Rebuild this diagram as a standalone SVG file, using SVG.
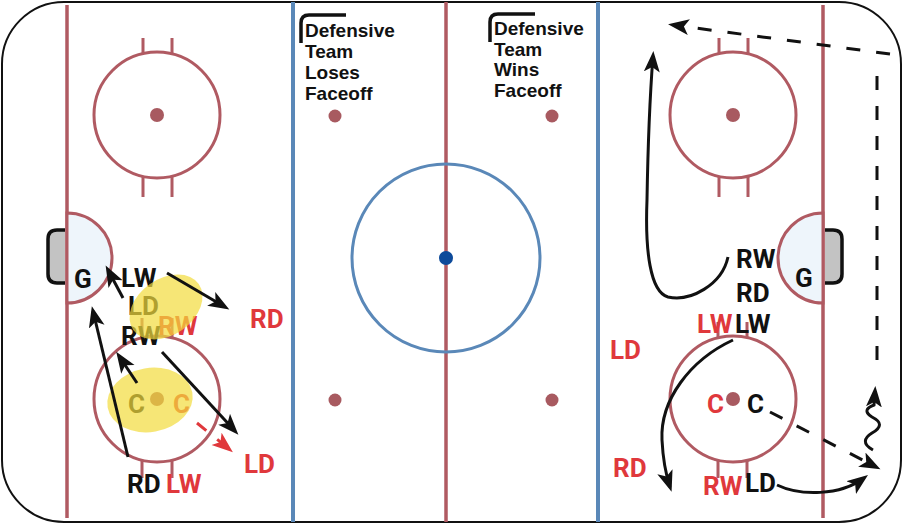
<svg xmlns="http://www.w3.org/2000/svg" width="904" height="525" viewBox="0 0 904 525">
<defs>
<style>
.rl{stroke:#b05a62;stroke-width:3.5;fill:none}
.bl{stroke:#5a88b8;stroke-width:4;fill:none}
.circ{stroke:#b05a62;stroke-width:3;fill:none}
.dot{fill:#a85a60}
.lbl{font-family:Roboto,"Liberation Sans",sans-serif;font-weight:bold;font-size:26px}
.blk{fill:#111}
.red{fill:#e0383c}
.note{font-family:"Liberation Sans",Arial,sans-serif;font-weight:bold;font-size:19px;fill:#111}
.arr{stroke:#111;stroke-width:3;fill:none;marker-end:url(#ah)}
.dash{stroke:#111;stroke-width:3;fill:none;stroke-dasharray:14,16}
.crease{fill:#eef5fb;stroke:#b05a62;stroke-width:3}
.net{fill:#c3c3c3;stroke:#111;stroke-width:3.5}
.hl{fill:#f2dc3c;opacity:0.7}
</style>
<marker id="ah" markerUnits="userSpaceOnUse" markerWidth="22" markerHeight="18" refX="16" refY="8" orient="auto">
<path d="M0,0 L21,8 L0,16 L5,8 z" fill="#111"/>
</marker>
<marker id="ahr" markerUnits="userSpaceOnUse" markerWidth="22" markerHeight="18" refX="16" refY="8" orient="auto">
<path d="M0,0 L21,8 L0,16 L5,8 z" fill="#e0383c"/>
</marker>
</defs>
<rect width="904" height="525" fill="#fff"/>
<g id="rink">
<rect x="2" y="2" width="899" height="520" rx="62" ry="62" fill="#fff" stroke="#111" stroke-width="2"/>
<line class="rl" x1="67" y1="5" x2="67" y2="518"/>
<line class="rl" x1="823" y1="5" x2="823" y2="518"/>
<line class="bl" x1="293" y1="2" x2="293" y2="522"/>
<line class="bl" x1="598" y1="2" x2="598" y2="522"/>
<line class="rl" x1="446" y1="2" x2="446" y2="522" stroke-width="4"/>
<circle cx="446" cy="258" r="94" fill="none" stroke="#5a88b8" stroke-width="3"/>
<circle cx="446" cy="258" r="7" fill="#0d4a9a"/>
<circle class="dot" cx="335" cy="116" r="6.5"/>
<circle class="dot" cx="552" cy="116" r="6.5"/>
<circle class="dot" cx="335" cy="400" r="6.5"/>
<circle class="dot" cx="552" cy="400" r="6.5"/>
</g>
<g id="left-zone">
<circle class="circ" cx="157" cy="115" r="63"/>
<circle class="dot" cx="157" cy="115" r="7"/>
<path class="circ" d="M143,38 V53 M172,38 V53 M143,177 V197 M172,177 V197"/>
<circle class="circ" cx="157" cy="399" r="63"/>
<circle class="dot" cx="157" cy="399" r="7"/>
<path class="circ" d="M142,318 V337 M172,318 V337 M142,461 V478 M172,461 V478"/>
<path class="crease" d="M67,213 A45,45 0 0 1 67,303 Z"/>
<path class="net" d="M65,230 H57 Q48,230 48,239 V274 Q48,283 57,283 H65"/>
</g>
<g id="right-zone">
<circle class="circ" cx="733" cy="115" r="63"/>
<circle class="dot" cx="733" cy="115" r="7"/>
<path class="circ" d="M719,38 V53 M748,38 V53 M719,177 V197 M748,177 V197"/>
<circle class="circ" cx="733" cy="399" r="63"/>
<circle class="dot" cx="733" cy="399" r="7"/>
<path class="circ" d="M718,322 V337 M747,322 V337 M718,461 V478 M747,461 V478"/>
<path class="crease" d="M823,213 A45,45 0 0 0 823,303 Z"/>
<path class="net" d="M825,230 H833 Q842,230 842,239 V274 Q842,283 833,283 H825"/>
</g>
<g id="note-loses">
<path d="M301,43 V23 Q301,15 309,15 H346" fill="none" stroke="#111" stroke-width="3.5"/>
<text class="note" x="305" y="37">Defensive</text>
<text class="note" x="305" y="58">Team</text>
<text class="note" x="305" y="79">Loses</text>
<text class="note" x="305" y="100">Faceoff</text>
</g>
<g id="note-wins">
<path d="M490,42 V22 Q490,14 498,14 H535" fill="none" stroke="#111" stroke-width="3.5"/>
<text class="note" x="494" y="35">Defensive</text>
<text class="note" x="494" y="56">Team</text>
<text class="note" x="494" y="76">Wins</text>
<text class="note" x="494" y="97">Faceoff</text>
</g>
<g id="left-players">
<g id="L-G"><text class="lbl blk" x="74" y="288">G</text></g>
<g id="L-LW-def"><text class="lbl blk" x="121" y="287">LW</text></g>
<g id="L-LD-def"><text class="lbl blk" x="128" y="315">LD</text></g>
<g id="L-RW-off"><text class="lbl red" x="158" y="335">RW</text></g>
<g id="L-RW-def"><text class="lbl blk" x="121" y="345">RW</text></g>
<g id="L-C-def"><text class="lbl blk" x="128" y="413">C</text></g>
<g id="L-C-off"><text class="lbl red" x="173" y="413">C</text></g>
<g id="L-RD-off"><text class="lbl red" x="250" y="328">RD</text></g>
<g id="L-LD-off"><text class="lbl red" x="244" y="473">LD</text></g>
<g id="L-RD-def"><text class="lbl blk" x="127" y="493">RD</text></g>
<g id="L-LW-off"><text class="lbl red" x="166" y="493">LW</text></g>
</g>
<g id="right-players">
<g id="R-G"><text class="lbl blk" x="795" y="287">G</text></g>
<g id="R-RW-def"><text class="lbl blk" x="736" y="268">RW</text></g>
<g id="R-RD-def"><text class="lbl blk" x="736" y="302">RD</text></g>
<g id="R-LW-off"><text class="lbl red" x="697" y="333">LW</text></g>
<g id="R-LW-def"><text class="lbl blk" x="735" y="333">LW</text></g>
<g id="R-LD-off"><text class="lbl red" x="610" y="359">LD</text></g>
<g id="R-C-off"><text class="lbl red" x="707" y="413">C</text></g>
<g id="R-C-def"><text class="lbl blk" x="747" y="413">C</text></g>
<g id="R-RD-off"><text class="lbl red" x="613" y="477">RD</text></g>
<g id="R-RW-off"><text class="lbl red" x="703" y="495">RW</text></g>
<g id="R-LD-def"><text class="lbl blk" x="745" y="492">LD</text></g>
</g>
<g id="highlights">
<ellipse class="hl" cx="166" cy="307" rx="40" ry="28" transform="rotate(-35 166 307)"/>
<ellipse class="hl" cx="150" cy="400" rx="43" ry="32" transform="rotate(-10 150 400)"/>
</g>
<g id="connectors">
<path class="arr" d="M123,298 L108,270"/>
<path class="arr" d="M167,273 L225,307"/>
<path class="arr" d="M128,457 L93,311"/>
<path class="arr" d="M137,383 L119,356"/>
<path class="arr" d="M162,352 L235,431"/>
<path d="M197,423 L229,449" fill="none" stroke="#e0383c" stroke-width="3" stroke-dasharray="12,14" marker-end="url(#ahr)"/>
<path class="arr" d="M728,257 C722,285 690,302 668,297 C650,292 645,250 647,200 C648,140 650,95 653,56"/>
<path class="dash" d="M877,360 L877,76"/>
<path class="dash" d="M890,54 L673,25" marker-end="url(#ah)"/>
<path class="arr" d="M873,450 C862,444 864,438 872,433 C882,427 882,422 872,417 C864,412 866,408 874,405 L875,391"/>
<path class="dash" d="M770,412 L876,467" marker-end="url(#ah)"/>
<path class="arr" d="M777,485 C800,496 840,496 864,478"/>
<path class="arr" d="M733,340 C690,360 660,400 662,440 C663,460 666,475 670,487"/>
</g>
</svg>
